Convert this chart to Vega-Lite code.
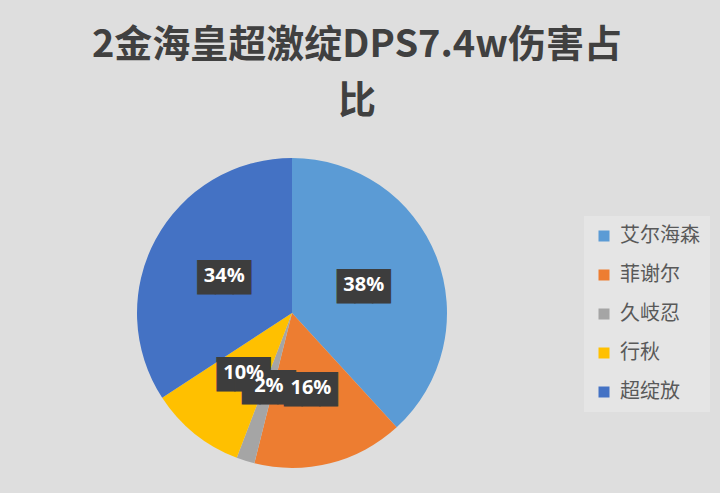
{
  "$schema": "https://vega.github.io/schema/vega-lite/v6.json",
  "autosize": {"type": "none"},
  "width": 310,
  "height": 310,
  "padding": {"left": 137, "top": 158, "right": 273, "bottom": 25},
  "background": "#dedede",
  "title": {
    "text": ["2金海皇超激绽DPS7.4w伤害占", "比"],
    "font": "Noto Sans CJK SC",
    "fontSize": 38,
    "fontWeight": "bold",
    "color": "#404040",
    "lineHeight": 56,
    "anchor": "middle",
    "frame": "group",
    "dx": 65,
    "offset": 37
  },
  "data": {
    "values": [
      {"角色": "艾尔海森", "占比": 0.382, "idx": 1},
      {"角色": "菲谢尔", "占比": 0.157, "idx": 2},
      {"角色": "久岐忍", "占比": 0.019, "idx": 3},
      {"角色": "行秋", "占比": 0.100, "idx": 4},
      {"角色": "超绽放", "占比": 0.342, "idx": 5}
    ]
  },
  "encoding": {
    "theta": {"field": "占比", "type": "quantitative", "stack": true},
    "order": {"field": "idx", "type": "quantitative"}
  },
  "layer": [
    {
      "mark": {"type": "arc", "stroke": null},
      "encoding": {
        "color": {
          "field": "角色",
          "type": "nominal",
          "scale": {
            "domain": ["艾尔海森", "菲谢尔", "久岐忍", "行秋", "超绽放"],
            "range": ["#5B9BD5", "#ED7D31", "#A5A5A5", "#FFC000", "#4472C4"]
          },
          "legend": {
            "orient": "none",
            "legendX": 447,
            "legendY": 58,
            "title": null,
            "fillColor": "#e5e5e5",
            "padding": 10,
            "symbolType": "square",
            "symbolSize": 121,
            "symbolStrokeWidth": 0,
            "labelFont": "Noto Sans CJK SC",
            "labelFontSize": 20,
            "labelColor": "#595959",
            "labelOffset": 6,
            "rowPadding": 19,
            "labelLimit": 200
          }
        }
      }
    },
    {
      "mark": {
        "type": "text",
        "radius": 77,
        "text": "███",
        "font": "Liberation Mono",
        "fontSize": 29.5,
        "color": "#3d3d3d",
        "stroke": "#3d3d3d",
        "strokeWidth": 1.2,
        "baseline": "middle",
        "align": "center"
      }
    },
    {
      "mark": {
        "type": "text",
        "radius": 77,
        "font": "Open Sans",
        "fontSize": 20,
        "fontWeight": "bold",
        "color": "#ffffff",
        "baseline": "middle",
        "align": "center"
      },
      "encoding": {
        "text": {"field": "占比", "type": "quantitative", "format": ".0%"}
      }
    }
  ]
}
